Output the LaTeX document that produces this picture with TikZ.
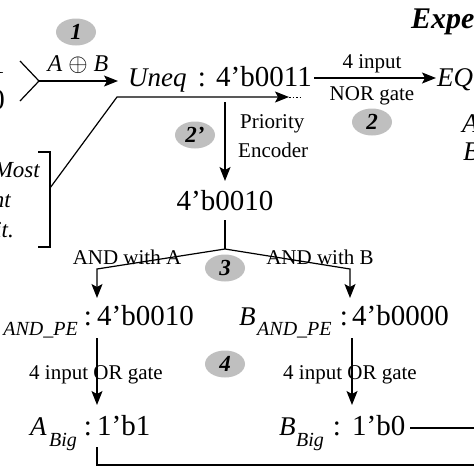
\documentclass[tikz,border=0pt]{standalone}
\usepackage{fontspec}
\setmainfont{Liberation Serif}
\usetikzlibrary{arrows.meta,shapes.geometric}
\begin{document}
\begin{tikzpicture}[x=1pt,y=-1pt,
  wire/.style={line width=1.2pt},
  arr/.style={wire,-{Stealth[length=14pt,width=11pt,inset=3pt]}},
  val/.style={font=\fontsize{29}{32}\selectfont, inner sep=0pt},
  vali/.style={font=\fontsize{27}{30}\selectfont\itshape, inner sep=0pt},
  sub/.style={font=\fontsize{20}{22}\selectfont\itshape, inner sep=0pt},
  lbl/.style={font=\fontsize{21}{24}\selectfont, inner sep=0pt},
  badge/.style={ellipse, fill=black!25, minimum width=40pt, minimum height=27pt, inner sep=0pt, font=\fontsize{23}{23}\selectfont\bfseries\itshape},
  note/.style={font=\fontsize{23}{26}\selectfont\itshape, inner sep=0pt}
]
\useasboundingbox (0,0) rectangle (474,474);
\clip (0,0) rectangle (474,474);

% left inputs (cropped)
\node[val, anchor=base east] (ina) at (5,73) {1};
\node[val, anchor=base east] (inb) at (5,109) {0};
\coordinate (m1) at (20,61);
\coordinate (m2) at (20,101);
\coordinate (mj) at (39,81);
\coordinate (uin) at (118,81);
\draw[wire] (m1) -- (mj) -- (m2);
\draw[arr] (mj) -- (uin);
\node[badge] (b1) at (76,32) {1};
\node[font=\fontsize{24}{24}\selectfont, anchor=base, inner sep=0pt] (xor) at (78,71) {\textit{A} \(\oplus\) \textit{B}};

% Uneq row
\node[vali, anchor=base west] (uneq) at (128,86) {Uneq};
\node[val, anchor=base] (c0) at (202,86) {:};
\node[val, anchor=base west] (v0) at (216,86) {4'b0011};
\coordinate (nors) at (314,78);
\coordinate (nore) at (436,78);
\draw[arr] (nors) -- (nore);
\node[lbl, anchor=base] (nor1) at (372,68) {4 input};
\node[lbl, anchor=base] (nor2) at (372,100) {NOR gate};
\node[badge] (b2) at (372,122) {2};
\node[vali, anchor=base west] (eq) at (437,86) {EQ};
\node[vali, anchor=base west] (ra) at (462,132) {A};
\node[vali, anchor=base west] (rb) at (463,160) {B};
\node[font=\fontsize{30}{30}\selectfont\bfseries\itshape, anchor=base west, inner sep=0pt] (title) at (411,28) {Expe};

% feedback
\coordinate (fb0) at (50,188);
\coordinate (fb1) at (117,97);
\coordinate (fb2) at (289,97);
\coordinate (fb3) at (301,97);
\draw[arr] (fb0) -- (fb1) -- (fb2);
\draw[line width=1pt, dash pattern=on 1.5pt off 2pt] (fb2) -- (fb3);
\coordinate (k1) at (38,152);
\coordinate (k2) at (50,152);
\coordinate (k3) at (50,247);
\coordinate (k4) at (38,247);
\draw[wire] (k1) -- (k2) -- (k3) -- (k4);
\node[note, anchor=base east] (n1) at (40,177) {Most};
\node[note, anchor=base east] (n2) at (11,207) {ant};
\node[note, anchor=base east] (n3) at (14,237) {Bit.};

% priority encoder
\coordinate (ps) at (225,102);
\coordinate (pe0) at (225,181);
\draw[arr] (ps) -- (pe0);
\node[lbl, anchor=base west] (pr1) at (240,128) {Priority};
\node[lbl, anchor=base west] (pr2) at (238,157) {Encoder};
\node[badge] (b2p) at (195,135) {2'};
\node[val, anchor=base] (pe) at (225,210) {4'b0010};
\coordinate (js) at (225,220);
\coordinate (j) at (225,249);
\coordinate (la) at (97,269);
\coordinate (lb) at (97,298);
\coordinate (ra1) at (350,269);
\coordinate (rb1) at (350,298);
\draw[wire] (js) -- (j);
\draw[arr] (j) -- (la) -- (lb);
\draw[arr] (j) -- (ra1) -- (rb1);
\node[lbl, anchor=base] (anda) at (127,264) {AND with A};
\node[lbl, anchor=base] (andb) at (320,264) {AND with B};
\node[badge] (b3) at (225,268) {3};

% AND_PE row
\node[sub, anchor=base east] (asub) at (78,335) {AND\_PE};
\node[val, anchor=base] (ac) at (88,325) {:};
\node[val, anchor=base west] (av) at (97,325) {4'b0010};
\node[vali, anchor=base west] (bm) at (239,325) {B};
\node[sub, anchor=base west] (bsub) at (257,335) {AND\_PE};
\node[val, anchor=base] (bc) at (344,325) {:};
\node[val, anchor=base west] (bv) at (352,325) {4'b0000};

% OR gates
\coordinate (oa1) at (97,338);
\coordinate (oa2) at (97,405);
\coordinate (ob1) at (352,338);
\coordinate (ob2) at (352,405);
\draw[arr] (oa1) -- (oa2);
\draw[arr] (ob1) -- (ob2);
\node[lbl, anchor=base] (ora) at (96,379) {4 input OR gate};
\node[lbl, anchor=base] (orb) at (350,379) {4 input OR gate};
\node[badge] (b4) at (225,364) {4};

% Big row
\node[vali, anchor=base west] (abm) at (30,435) {A};
\node[sub, anchor=base west] (abs) at (49,446) {Big};
\node[val, anchor=base] (abc) at (88,435) {:};
\node[val, anchor=base west] (abv) at (97,435) {1'b1};
\node[vali, anchor=base west] (bbm) at (279,435) {B};
\node[sub, anchor=base west] (bbs) at (296,446) {Big};
\node[val, anchor=base] (bbc) at (337,435) {:};
\node[val, anchor=base west] (bbv) at (352,435) {1'b0};
\coordinate (o1) at (410,428);
\coordinate (o2) at (480,428);
\draw[wire] (o1) -- (o2);
\coordinate (q1) at (97,447);
\coordinate (q2) at (97,465);
\coordinate (q3) at (480,465);
\draw[wire] (q1) -- (q2) -- (q3);
\end{tikzpicture}
\end{document}
